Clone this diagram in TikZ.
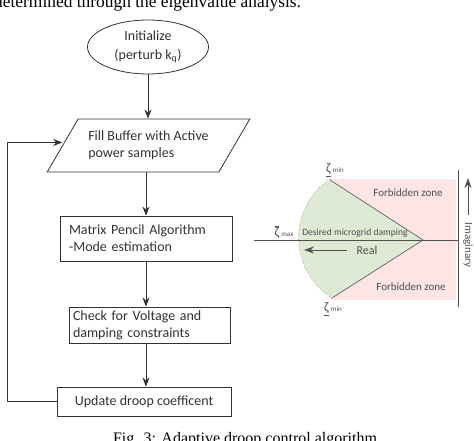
\documentclass[tikz,border=0pt]{standalone}
\usepackage{fontspec}
\setmainfont{Carlito}
\newfontfamily\paperfont{Liberation Serif}
\usetikzlibrary{shapes.geometric,arrows.meta,positioning}

\definecolor{linegray}{RGB}{50,50,50}
\definecolor{axisgray}{RGB}{80,80,80}
\definecolor{okgreen}{RGB}{222,234,212}
\definecolor{badpink}{RGB}{253,229,229}

\begin{document}
\begin{tikzpicture}[x=1pt, y=-1pt,
  flowtext/.style={font=\fontsize{14}{17}\selectfont, text=linegray},
  box/.style={draw=linegray, line width=0.8pt, flowtext},
  flow/.style={-{Stealth[length=9pt,width=7pt]}, draw=linegray, line width=0.8pt},
  plane/.style={text=axisgray, inner sep=0pt}]
  \useasboundingbox (0,0) rectangle (474,441);

  % Cut text of the page above and below
  \node[anchor=base west, inner sep=0pt, font=\paperfont\fontsize{17.4}{20}\selectfont] (above) at (-6,7.5) {determined through the eigenvalue analysis.};
  \node[anchor=base, inner sep=0pt, font=\paperfont\fontsize{16}{18}\selectfont] (caption) at (245,443.5) {Fig. 3: Adaptive droop control algorithm};

  % Flowchart
  \node[box, ellipse, minimum width=121, minimum height=54, inner sep=1pt, align=center,
        font=\fontsize{14}{19}\selectfont] (init) at (148,47) {Initialize\\(perturb k\textsubscript{q})};
  \node[box, trapezium, trapezium left angle=49, trapezium right angle=131, trapezium stretches=true,
        minimum width=203, minimum height=53, inner sep=1pt, align=left] (fill) at (148.5,145.5)
        {Fill Buffer with Active\\power samples};
  \node[box, text width=154, inner xsep=9, inner ysep=1, minimum height=45, align=left] (pencil) at (146,238.5)
        {Matrix Pencil Algorithm\\-Mode estimation};
  \node[box, text width=153, inner xsep=4, inner ysep=1, minimum height=36, align=left] (check) at (149.5,325)
        {Check for Voltage and\\damping constraints};
  \node[box, minimum width=174, minimum height=29, inner sep=1pt] (update) at (144,401.5)
        {Update droop coefficent};

  \draw[flow] (init.south) -- (init.south |- fill.north);
  \draw[flow] (pencil.north |- fill.south) -- (pencil.north);
  \draw[flow] (pencil.south) -- (pencil.south |- check.north);
  \draw[flow] (pencil.south |- check.south) -- (pencil.south |- update.north);

  % Feedback loop
  \draw[flow] (update.west) -- ++(-49,0) |- ([yshift=3pt]fill.west);

  % Forbidden zone
  \fill[badpink] (330,179) rectangle (456,300);

  % Desired damping sector
  \fill[okgreen] (330,180) -- (423,240) -- (332,298) arc[start angle=122, end angle=238, radius=71] -- cycle;
  \draw[axisgray, line width=0.6pt] (330,180) -- (423,240) -- (332,298);
  \draw[axisgray, line width=0.5pt, dotted] (332,298) arc[start angle=122, end angle=238, radius=71];

  % Axes
  \draw[axisgray, line width=0.9pt] (254,240) -- (458,240);
  \draw[axisgray, line width=0.9pt] (458,170) -- (458,307);
  \draw[-{Stealth[length=10pt,width=7pt]}, axisgray, line width=0.9pt] (347,250) -- (304,250);
  \draw[-{Stealth[length=10pt,width=7pt]}, axisgray, line width=0.9pt] (468,215) -- (468,178);

  % Labels
  \node[plane, font=\fontsize{11}{13}\selectfont] (upperzone) at (408,193) {Forbidden zone};
  \node[plane, font=\fontsize{11}{13}\selectfont] (lowerzone) at (411,287) {Forbidden zone};
  \node[plane, font=\fontsize{9.6}{11}\selectfont] (desired) at (355,232.5) {Desired microgrid damping};
  \node[plane, font=\fontsize{12}{14}\selectfont] (real) at (367,250) {Real};
  \node[plane, font=\fontsize{11}{13}\selectfont, rotate=-90] (imag) at (468,245) {Imaginary};
  \node[plane, font=\fontsize{13}{15}\selectfont] (zmintop) at (335,170) {\underline{ζ}\,{\fontsize{7}{8}\selectfont min}};
  \node[plane, font=\fontsize{13}{15}\selectfont] (zminbot) at (333,309) {\underline{ζ}\,{\fontsize{7}{8}\selectfont min}};
  \node[plane, font=\fontsize{13}{15}\selectfont] (zmax) at (284,232) {$\overline{\mbox{ζ}}$\,{\fontsize{7}{8}\selectfont max}};
\end{tikzpicture}
\end{document}
